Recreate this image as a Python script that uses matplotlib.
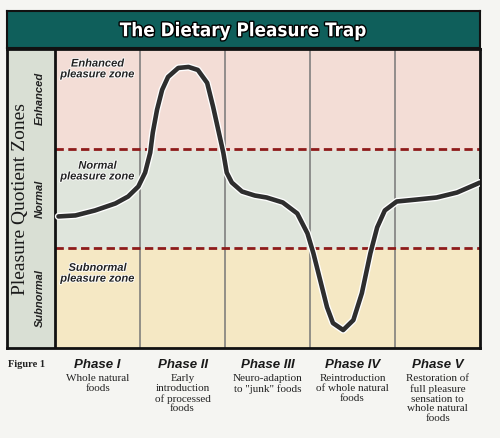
import matplotlib.pyplot as plt
import matplotlib.patheffects as pe
from matplotlib.patches import Rectangle

# --- Data (x in phase units, y in zone units: 0-1 subnormal, 1-2 normal, 2-3 enhanced) ---
curve_x = [0.04, 0.24, 0.47, 0.71, 0.86, 0.98, 1.06, 1.12, 1.15, 1.20, 1.26, 1.33, 1.45,
           1.57, 1.68, 1.79, 1.86, 1.92, 1.98, 2.02, 2.08, 2.20, 2.35, 2.49, 2.68, 2.85,
           2.97, 3.04, 3.12, 3.20, 3.27, 3.39, 3.51, 3.61, 3.71, 3.79, 3.88, 4.02, 4.26,
           4.49, 4.73, 5.00]
curve_y = [1.32, 1.33, 1.38, 1.45, 1.52, 1.62, 1.76, 1.96, 2.16, 2.39, 2.59, 2.72, 2.81,
           2.82, 2.79, 2.66, 2.42, 2.19, 1.96, 1.76, 1.66, 1.57, 1.53, 1.51, 1.46, 1.35,
           1.15, 0.95, 0.68, 0.41, 0.25, 0.18, 0.28, 0.55, 0.95, 1.21, 1.38, 1.47, 1.49,
           1.51, 1.56, 1.66]

zone_names = ["Subnormal", "Normal", "Enhanced"]
zone_text = ["Subnormal\npleasure zone", "Normal\npleasure zone", "Enhanced\npleasure zone"]
zone_colors = ["#f5e8c4", "#dfe5dc", "#f3ddd6"]

phase_titles = ["Phase I", "Phase II", "Phase III", "Phase IV", "Phase V"]
phase_desc = ["Whole natural\nfoods",
              "Early\nintroduction\nof processed\nfoods",
              "Neuro-adaption\nto \"junk\" foods",
              "Reintroduction\nof whole natural\nfoods",
              "Restoration of\nfull pleasure\nsensation to\nwhole natural\nfoods"]

left_w = 0.565   # width of the zone-label column, in phase units

fig = plt.figure(figsize=(5, 4.38), dpi=100, facecolor="#f5f5f2")

# --- Title bar ---
tax = fig.add_axes([0.014, 0.890, 0.946, 0.085])
tax.set_facecolor("#0f5f5b")
tax.set_xticks([])
tax.set_yticks([])
for s in tax.spines.values():
    s.set_linewidth(1.5)
    s.set_color("#111")
tax.text(0.5, 0.47, "The Dietary Pleasure Trap", ha="center", va="center",
         color="white", fontsize=13.5, fontweight="heavy", fontstretch="condensed",
         family=["DejaVu Sans"],
         path_effects=[pe.withStroke(linewidth=2, foreground="black")])

# --- Main panel ---
ax = fig.add_axes([0.014, 0.2055, 0.946, 0.6826])
ax.set_xlim(-left_w, 5)
ax.set_ylim(0, 3)
ax.set_xticks([])
ax.set_yticks([])
for s in ax.spines.values():
    s.set_linewidth(2)
    s.set_color("#111")

ax.add_patch(Rectangle((-left_w, 0), left_w, 3, color="#d9dfd4", zorder=0))
for i, c in enumerate(zone_colors):
    ax.add_patch(Rectangle((0, i), 5, 1, color=c, zorder=0))

for xv in range(1, 5):
    ax.axvline(xv, color="#777", lw=1.1, zorder=1)
ax.axvline(0, color="#111", lw=2, zorder=3)

for yv in [1, 2]:
    ax.plot([0, 5], [yv, yv], color="#8e1b1b", lw=2, ls=(0, (3, 1.6)), zorder=2)

ax.plot(curve_x, curve_y, color="#2e2e2e", lw=3.3, solid_capstyle="round",
        solid_joinstyle="round", zorder=4,
        path_effects=[pe.Stroke(linewidth=5.2, foreground="white"), pe.Normal()])

# zone text in first phase column
zone_text_y = [0.75, 1.775, 2.80]
for yv, t in zip(zone_text_y, zone_text):
    ax.text(0.5, yv, t, ha="center", va="center", fontsize=8, style="italic",
            fontweight="bold", color="#222", linespacing=1.1,
            family=["Liberation Sans", "DejaVu Sans"],
            path_effects=[pe.withStroke(linewidth=1.2, foreground="white")])

# left column labels
for i, name in enumerate(zone_names):
    ax.text(-0.18, i + 0.5, name, ha="center", va="center", rotation=90,
            fontsize=8, style="italic", fontweight="bold", color="#222",
            family=["Liberation Sans", "DejaVu Sans"])
ax.text(-0.41, 1.5, "Pleasure Quotient Zones", ha="center", va="center",
        rotation=90, fontsize=14, color="#1a1a1a",
        family=["Liberation Serif", "DejaVu Serif"])

# --- Labels below ---
fig.text(0.016, 0.168, "Figure 1", ha="left", va="center", fontsize=7.5,
         fontweight="bold", color="#222", family=["Liberation Serif", "DejaVu Serif"])
for i, (t, d) in enumerate(zip(phase_titles, phase_desc)):
    xf = (55 + 85 * (i + 0.5)) / 500
    fig.text(xf, 0.166, t, ha="center", va="center", fontsize=9.5,
             style="italic", fontweight="bold", color="#1a1a1a",
             family=["Liberation Sans", "DejaVu Sans"])
    fig.text(xf, 0.146, d, ha="center", va="top", fontsize=8,
             color="#222", linespacing=1.12,
             family=["Liberation Serif", "DejaVu Serif"])

fig.savefig("out.png", dpi=100, facecolor=fig.get_facecolor())
